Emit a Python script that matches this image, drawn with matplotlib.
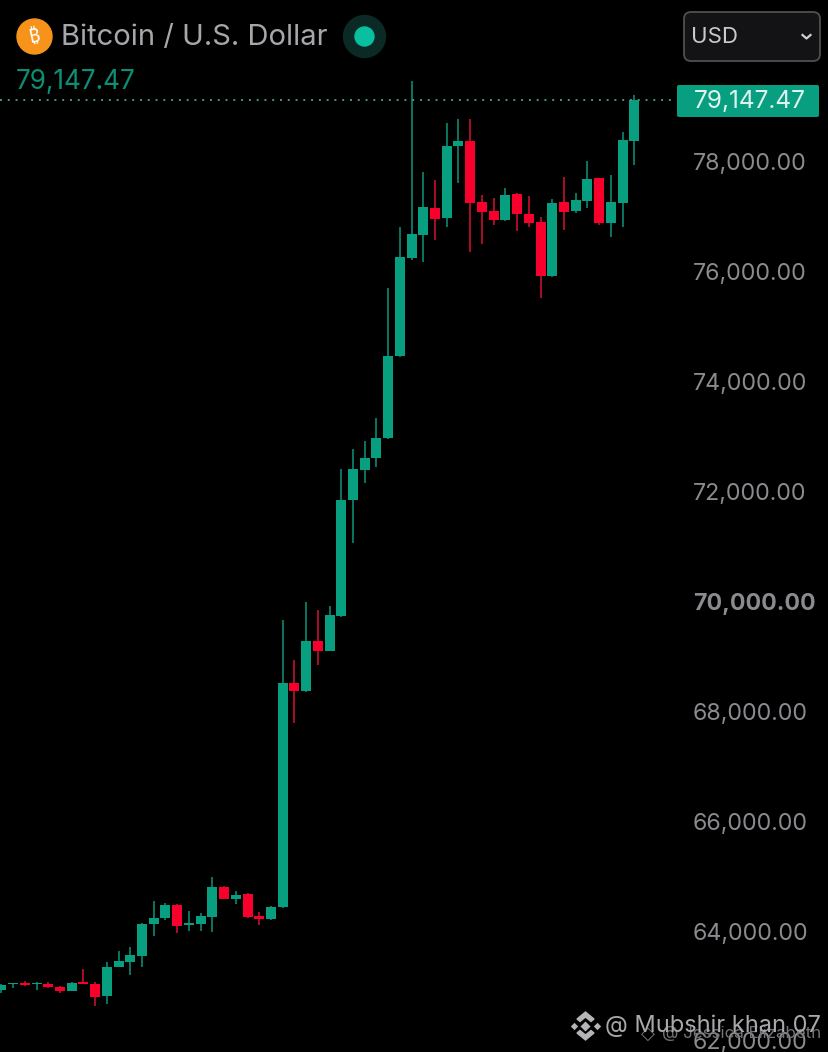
import numpy as np
import matplotlib
matplotlib.use("Agg")
import matplotlib.pyplot as plt
from matplotlib.patches import Circle, FancyBboxPatch, Polygon

plt.rcParams['font.family'] = ['Inter', 'DejaVu Sans']

# candles, oldest first
opens = [62963,63061,63085,63061,63067,63007,62945,63108,63067,62843,63376,63473,63576,64153,64263,
         64505,64146,64153,64286,64827,64614,64699,64304,64244,64463,68539,68405,69304,69133,69764,
         71876,72422,72640,72998,74491,76274,76704,77190,77008,78318,78409,77299,77135,76966,77439,
         77086,76935,75958,77299,77130,77317,77731,76917,77281,78415]
closes = [63049,63079,63049,63085,63007,62945,63090,63067,62836,63381,63480,63590,64164,64273,64505,
          64122,64171,64304,64827,64614,64692,64281,64250,64474,68550,68399,69310,69133,69777,71881,
          72440,72640,73004,74491,76293,76711,77203,76990,78318,78409,77281,77117,76966,77421,77075,
          76917,75958,77281,77117,77330,77723,76917,77294,78428,79147]
highs = [63061,63079,63116,63108,63103,63031,63098,63340,63098,63461,63667,63735,64177,64577,64541,
         64517,64401,64353,65020,64856,64765,64717,64383,64492,69686,68958,70025,69874,69941,72434,
         72798,72955,73373,75734,76850,79501,77851,77700,78742,78804,78804,77427,77372,77549,77463,
         77408,77026,77359,77760,77468,78040,77731,77785,78579,79247]
lows = [62903,62994,63036,62963,62999,62903,62945,63067,62666,62697,63367,63236,63382,63935,64232,
        63995,64037,64037,64008,64605,64528,64263,64140,64232,64445,67812,68381,68873,69122,69740,
        71098,72191,72482,72990,74478,76244,76202,76608,76839,77651,76384,76535,76875,76954,76777,
        76850,75552,75929,76790,77104,77190,76875,76662,76839,77973]

last_price = 79147.47
tick_prices = [78000, 76000, 74000, 72000, 70000, 68000, 66000, 64000, 62000]

GREEN = "#089e80"
GREEN_WICK = "#0a7560"
RED = "#f8002b"
RED_WICK = "#a80f28"

fig = plt.figure(figsize=(8.29, 10.52), dpi=100, facecolor="black")
ax = fig.add_axes([0, 0, 1, 1], facecolor="black")
ax.set_axis_off()

x = np.arange(len(opens))
opens = np.array(opens)
closes = np.array(closes)
up = closes >= opens
body_col = [GREEN if u else RED for u in up]
wick_col = [GREEN_WICK if u else RED_WICK for u in up]

ax.vlines(x, lows, highs, colors=wick_col, linewidth=1.4, zorder=2)
ax.bar(x, np.abs(closes - opens), bottom=np.minimum(opens, closes), width=0.85,
       color=body_col, zorder=3)
ax.axhline(last_price, xmin=0, xmax=675 / 829, color="#3f9c87", linewidth=1.4,
           linestyle=(0, (1, 3)), zorder=4)

ax.set_xlim(-1.4 / 11.72, (829 - 1.4) / 11.72)
ax.set_ylim(61829, 80976)

# overlay in pixels for the app chrome
ui = fig.add_axes([0, 0, 1, 1], facecolor="none")
ui.set_axis_off()
ui.set_xlim(0, 829)
ui.set_ylim(1052, 0)

for p in tick_prices:
    is_bold = p == 70000
    ax.text(693 / 11.72 - 1.4 / 11.72, p - 15, f"{p:,.2f}", color="#8b8b8f", fontsize=16.7,
            va="center", ha="left", fontweight="bold" if is_bold else "normal",
            zorder=5)

# header
ui.add_patch(Circle((34.5, 36.5), 17.5, color="#f7931a"))
ui.text(34.5, 37, "₿", color="white", fontsize=14, fontweight="bold", ha="center", va="center",
        family=["Noto Sans", "Roboto", "Open Sans", "Lato", "Liberation Sans", "DejaVu Sans"], rotation=12)
ui.text(61, 38, "Bitcoin / U.S. Dollar", color="#a6a6ab", fontsize=21, va="center", ha="left")
ui.add_patch(Circle((364.5, 36.5), 21, color="#0b2a25"))
ui.add_patch(Circle((364.5, 36.5), 9.5, color="#09bfa0"))
ui.text(16, 82, "79,147.47", color="#0c8f74", fontsize=18.8, va="center", ha="left")

# currency button
ui.add_patch(FancyBboxPatch((687, 15), 130, 43, boxstyle="round,pad=3,rounding_size=7",
                            facecolor="#131315", edgecolor="#4b4b4e", linewidth=1.4))
ui.text(691, 37, "USD", color="#c9c9cc", fontsize=16, va="center", ha="left")
ui.plot([802.5, 806.5, 810.5], [35, 38.5, 35], color="#d0d0d2", linewidth=1.6)

# last price tag
ui.add_patch(FancyBboxPatch((677, 85), 142, 32, boxstyle="round,pad=0,rounding_size=2",
                            facecolor=GREEN, edgecolor="none"))
ui.text(749.5, 101, "79,147.47", color="#dff3ee", fontsize=17.6, va="center", ha="center")

# watermark
wm = "#b5b5b8"
ui.scatter([574, 597], [1026, 1026], marker="D", s=14, color=wm, zorder=6, linewidths=0)
ui.scatter([585.5], [1026], marker="D", s=26, color=wm, zorder=6, linewidths=0)
ui.add_patch(Polygon([[577, 1019], [585.5, 1012], [594, 1019], [591, 1021.5], [585.5, 1017], [580, 1021.5]],
                     color=wm, zorder=6))
ui.add_patch(Polygon([[577, 1033], [585.5, 1040], [594, 1033], [591, 1030.5], [585.5, 1035], [580, 1030.5]],
                     color=wm, zorder=6))
ui.text(605, 1026, "@ Mubshir khan 07", color="#a9a9ac", fontsize=17, va="center", ha="left", zorder=6)
ui.text(641, 1034, "◇", color="#77777a", fontsize=13, va="center", ha="left", family="DejaVu Sans", zorder=5)
ui.text(662, 1033, "@ Jessica Elizabeth", color="#737376", fontsize=12.2, va="center", ha="left", zorder=5)

fig.savefig("out.png", dpi=100, facecolor="black")
